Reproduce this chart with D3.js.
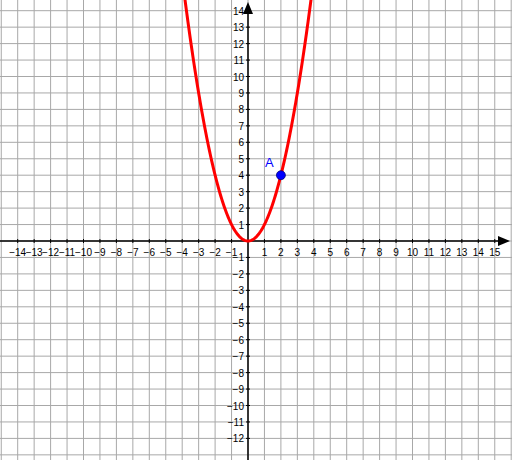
<!DOCTYPE html><html><head><script src="https://cdn.jsdelivr.net/npm/d3@7"></script>
<style>body{margin:0;background:#fff}text{font-family:"Liberation Sans",Arial,sans-serif}</style></head><body>
<svg id="c" width="512" height="460"></svg>
<script>
const xTicks=d3.range(-14,16).filter(v=>v!==0);
const yTicks=d3.range(-12,15).filter(v=>v!==0);
const curveX=d3.range(-4.2,4.21,0.05);
const curveY=curveX.map(x=>x*x);
const pointA={x:2,y:4,label:"A"};
const W=512,H=460,ox=248,oy=241,u=16.45;
const x=d3.scaleLinear().domain([0,1]).range([ox,ox+u]);
const y=d3.scaleLinear().domain([0,1]).range([oy,oy-u]);
const svg=d3.select("#c");
const gx=d3.range(-15,17),gy=d3.range(-14,16);
svg.selectAll(".vx").data(gx).join("line").attr("x1",d=>x(d)).attr("x2",d=>x(d)).attr("y1",0).attr("y2",H).attr("stroke","#a8a8a8").attr("stroke-width",1);
svg.selectAll(".hy").data(gy).join("line").attr("y1",d=>y(d)).attr("y2",d=>y(d)).attr("x1",0).attr("x2",W).attr("stroke","#a8a8a8").attr("stroke-width",1);
svg.append("line").attr("x1",0).attr("x2",W-6).attr("y1",oy).attr("y2",oy).attr("stroke","#000").attr("stroke-width",1.5);
svg.append("line").attr("x1",ox).attr("x2",ox).attr("y1",H).attr("y2",6).attr("stroke","#000").attr("stroke-width",1.5);
svg.append("path").attr("d",`M${W-2},${oy} L${W-14},${oy-5} L${W-14},${oy+5}Z`).attr("fill","#000");
svg.append("path").attr("d",`M${ox},2 L${ox-5},14 L${ox+5},14Z`).attr("fill","#000");
svg.selectAll(".xt").data(xTicks).join("line").attr("x1",d=>x(d)).attr("x2",d=>x(d)).attr("y1",oy-2).attr("y2",oy+2).attr("stroke","#000");
svg.selectAll(".yt").data(yTicks).join("line").attr("y1",d=>y(d)).attr("y2",d=>y(d)).attr("x1",ox-2).attr("x2",ox+2).attr("stroke","#000");
svg.selectAll(".xl").data(xTicks).join("text").attr("x",d=>x(d)).attr("y",oy+15).attr("text-anchor","middle").attr("font-size",10).text(d=>d<0?"\u2212"+(-d):d);
svg.selectAll(".yl").data(yTicks).join("text").attr("x",ox-4).attr("y",d=>y(d)+4).attr("text-anchor","end").attr("font-size",10).text(d=>d<0?"\u2212"+(-d):d);
svg.append("path").datum(curveX.map((v,i)=>[v,curveY[i]])).attr("d",d3.line().x(d=>x(d[0])).y(d=>y(d[1]))).attr("fill","none").attr("stroke","#ff0000").attr("stroke-width",3);
svg.append("circle").attr("cx",x(pointA.x)).attr("cy",y(pointA.y)).attr("r",4.5).attr("fill","#0000ff").attr("stroke","#000066").attr("stroke-width",0.7);
svg.append("text").attr("x",x(pointA.x)-16).attr("y",y(pointA.y)-8).attr("fill","#0000ff").attr("font-size",13).text(pointA.label);
</script></body></html>
